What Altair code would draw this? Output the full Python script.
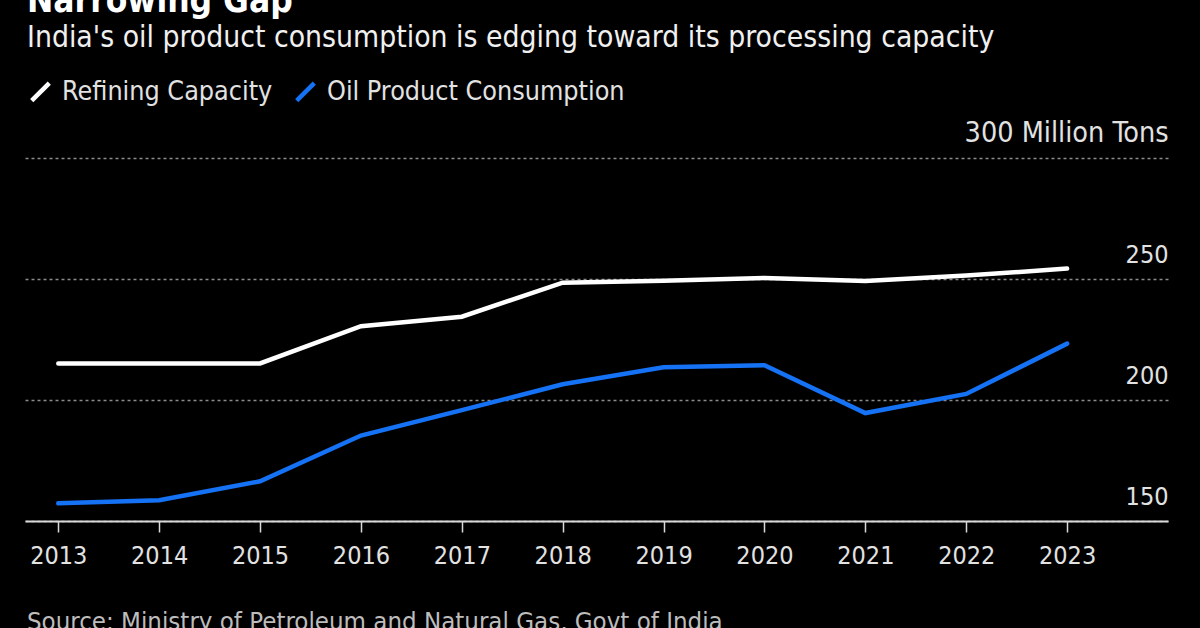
import altair as alt
import pandas as pd

# Annual values, million tons
years = [2013, 2014, 2015, 2016, 2017, 2018, 2019, 2020, 2021, 2022, 2023]
refining_capacity = [215.1, 215.1, 215.1, 230.5, 234.4, 248.5, 249.3, 250.4, 249.2, 251.4, 254.3]
oil_consumption = [157.3, 158.6, 166.4, 185.3, 195.8, 206.5, 213.5, 214.4, 194.6, 202.5, 223.3]

series_names = ["Refining Capacity", "Oil Product Consumption"]
series_colors = ["#ffffff", "#1572f5"]
y_ticks = [150, 200, 250, 300]

title_text = "Narrowing Gap"
subtitle_text = "India's oil product consumption is edging toward its processing capacity"
source_text = "Source: Ministry of Petroleum and Natural Gas, Govt of India"

FONT = "DejaVu Sans Condensed, DejaVu Sans"
TEXT_COLOR = "#e2e2e2"

rows = []
for name, values in zip(series_names, [refining_capacity, oil_consumption]):
    for yr, v in zip(years, values):
        rows.append({"year": yr, "value": v, "series": name})
df = pd.DataFrame(rows)

W, H = 1143, 363

lines = alt.Chart(df).mark_line(strokeWidth=4.5, strokeCap="round").encode(
    x=alt.X(
        "year:Q",
        scale=alt.Scale(domain=[2012.67, 2024.0], nice=False, zero=False),
        axis=alt.Axis(
            values=years, format="d", title=None, grid=False,
            domainColor="#d9d9d9", domainWidth=2,
            tickColor="#d9d9d9", tickWidth=1.5, tickSize=11,
            labelFont=FONT, labelFontSize=25, labelColor=TEXT_COLOR,
            labelPadding=11, zindex=1,
        ),
    ),
    y=alt.Y(
        "value:Q",
        scale=alt.Scale(domain=[150, 300], nice=False, zero=False),
        axis=alt.Axis(
            orient="right", values=y_ticks, title=None,
            domain=False, ticks=False, tickSize=0,
            grid=True, gridDash=[3, 3], gridColor="#8a8a8a", gridWidth=1.5,
            labelAlign="right", labelBaseline="alphabetic", labelOffset=-17,
            labelPadding=0, labelFont=FONT,
            labelFontSize=alt.expr("datum.value == 300 ? 28.5 : 25"),
            labelColor=TEXT_COLOR, labelLimit=0,
            labelExpr="datum.value == 300 ? '300 Million Tons' : datum.label",
        ),
    ),
    color=alt.Color(
        "series:N",
        scale=alt.Scale(domain=series_names, range=series_colors),
        legend=alt.Legend(
            orient="none", legendX=2, legendY=-80, direction="horizontal",
            title=None, symbolType="M-0.8,0.8L0.8,-0.8", symbolSize=484,
            symbolStrokeWidth=4.5, labelFont=FONT, labelFontSize=26.7,
            labelColor=TEXT_COLOR, labelOffset=8, labelLimit=0,
            columnPadding=14,
        ),
    ),
    detail="series:N",
)

one = alt.Data(values=[{}])

title = alt.Chart(one).mark_text(
    text=title_text, align="left", baseline="alphabetic", fontSize=35,
    fontWeight="bold", color="#ffffff", font=FONT,
).encode(x=alt.value(2), y=alt.value(-146))

subtitle = alt.Chart(one).mark_text(
    text=subtitle_text, align="left", baseline="alphabetic", fontSize=29.8,
    color="#f0f0f0", font=FONT,
).encode(x=alt.value(2), y=alt.value(-111))

source = alt.Chart(one).mark_text(
    text=source_text, align="left", baseline="alphabetic", fontSize=25.6,
    color="#bdbdbd", font=FONT,
).encode(x=alt.value(2), y=alt.value(H + 109))

chart = alt.layer(lines, title, subtitle, source).properties(
    width=W, height=H,
    autosize=alt.AutoSizeParams(type="none"),
    padding={"left": 25, "top": 158, "right": 32, "bottom": 107},
    background="#000000",
).configure_view(stroke=None)

chart.save("out.html", embed_options={"renderer": "svg", "actions": False})
